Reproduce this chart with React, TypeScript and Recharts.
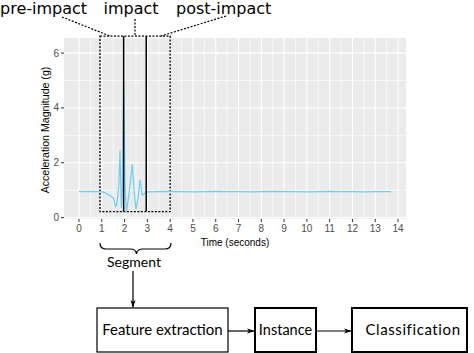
import {
  LineChart, Line, XAxis, YAxis, CartesianGrid, ReferenceArea, ReferenceLine,
} from 'recharts'

// acceleration trace (seconds, g)
const times = [
  0, 0.25, 0.5, 0.75, 1.0, 1.1, 1.2, 1.3, 1.4, 1.5, 1.55, 1.6, 1.65, 1.7, 1.75,
  1.8, 1.86, 1.9, 1.96, 2.02, 2.08, 2.15, 2.25, 2.34, 2.42, 2.5, 2.6, 2.68, 2.78,
  2.85, 2.95, 3.1, 3.5, 4.0, 4.5, 5.0, 5.5, 6.0, 6.5, 7.0, 7.5, 8.0, 8.5, 9.0,
  9.5, 10.0, 10.5, 11.0, 11.5, 12.0, 12.5, 13.0, 13.5, 13.7,
]
const accel = [
  0.96, 0.95, 0.96, 0.95, 0.94, 0.92, 0.88, 0.83, 0.78, 0.72, 0.6, 0.4, 0.45, 0.78, 1.2,
  2.45, 0.35, 1.0, 5.0, 1.1, 0.2, 0.6, 1.25, 1.95, 0.95, 0.3, 0.75, 1.38, 0.82,
  0.85, 0.95, 0.94, 0.95, 0.96, 0.95, 0.94, 0.95, 0.96, 0.95, 0.95, 0.94, 0.95, 0.96, 0.95,
  0.95, 0.94, 0.95, 0.96, 0.95, 0.95, 0.94, 0.95, 0.95, 0.95,
]

const xTicks = [0, 1, 2, 3, 4, 5, 6, 7, 8, 9, 10, 11, 12, 13, 14]
const yTicks = [0, 2, 4, 6]
const xMinor = [0.5, 1.5, 2.5, 3.5, 4.5, 5.5, 6.5, 7.5, 8.5, 9.5, 10.5, 11.5, 12.5, 13.5]
const yMinor = [1, 3, 5]

// segment window (seconds) and the split lines
const segStart = 0.92
const segEnd = 4.0
const impactStart = 1.96
const impactEnd = 2.95
const segBottom = 0.22
const segTop = 6.62

const data = times.map((t, i) => ({ t, a: accel[i] }))

const W = 474
const H = 353
const SANS = 'Liberation Sans, Arial, sans-serif'
const TICK = { fill: '#4D4D4D', fontSize: 10, fontFamily: SANS }
const ANNOT = 'DejaVu Sans, sans-serif'
const BOX_FONT = 'Lato, sans-serif'

function Overlay() {
  return (
    <svg width={W} height={H} style={{ position: 'absolute', left: 0, top: 0, pointerEvents: 'none' }}>
      <defs>
        <marker id="arr" markerWidth="8" markerHeight="6" refX="7" refY="3" orient="auto" markerUnits="userSpaceOnUse">
          <path d="M0,0.5 L8,3 L0,5.5 L2,3 Z" fill="#000" />
        </marker>
      </defs>
      {/* top labels */}
      <text x={0} y={14} fontSize={16} fontFamily={ANNOT} fill="#000">pre-impact</text>
      <text x={131} y={14} fontSize={16} fontFamily={ANNOT} fill="#000" textAnchor="middle">impact</text>
      <text x={176} y={14} fontSize={16} fontFamily={ANNOT} fill="#000">post-impact</text>
      <g stroke="#000" strokeWidth={1.2} strokeDasharray="2 1.5" fill="none">
        <line x1={62} y1={17} x2={110} y2={36} />
        <line x1={135} y1={19} x2={135} y2={36} />
        <line x1={226} y1={16} x2={161} y2={36} />
      </g>

      {/* axis titles */}
      <text x={235} y={246} fontSize={10} fontFamily={SANS} fill="#000" textAnchor="middle">Time (seconds)</text>
      <text x={45} y={130} fontSize={10.6} fontFamily={SANS} fill="#000" textAnchor="middle"
        dominantBaseline="central" transform="rotate(-90 45 130)">Acceleration Magnitude (g)</text>

      {/* brace + segment */}
      <path d="M100,243 Q100,249 106,249 L130,249 Q136,249 136.5,254 Q137,249 143,249 L165,249 Q171,249 171,243"
        fill="none" stroke="#000" strokeWidth={1.2} />
      <text x={134} y={267} fontSize={14} fontFamily={BOX_FONT} fill="#000" textAnchor="middle">Segment</text>
      <line x1={133} y1={271} x2={133} y2={307} stroke="#000" strokeWidth={1.2} markerEnd="url(#arr)" />

      {/* flow boxes */}
      <rect x={97} y={308} width={131} height={44} fill="#fff" stroke="#000" strokeWidth={1.2} />
      <text x={162.5} y={335} fontSize={15} fontFamily={BOX_FONT} fill="#000" textAnchor="middle">Feature extraction</text>
      <line x1={228} y1={331} x2={254} y2={331} stroke="#000" strokeWidth={1.2} markerEnd="url(#arr)" />
      <rect x={255} y={308} width={61} height={44} fill="#fff" stroke="#000" strokeWidth={2} />
      <text x={285.5} y={335} fontSize={14.5} fontFamily={BOX_FONT} fill="#000" textAnchor="middle">Instance</text>
      <line x1={316} y1={331} x2={351} y2={331} stroke="#000" strokeWidth={1.2} markerEnd="url(#arr)" />
      <rect x={352} y={308} width={115} height={44} fill="#fff" stroke="#000" strokeWidth={2} />
      <text x={413} y={335} fontSize={15} fontFamily={BOX_FONT} fill="#000" textAnchor="middle" letterSpacing={0.6}>Classification</text>
    </svg>
  )
}

export default function App() {
  return (
    <div style={{ position: 'absolute', left: 0, top: 0, width: W, height: H, background: '#fff' }}>
      <LineChart width={W} height={H} data={data} margin={{ top: 38, right: 68, left: 0, bottom: 0 }}>
        <CartesianGrid fill="#EBEBEB" stroke="#fff" strokeWidth={0.6}
          verticalValues={xMinor} horizontalValues={yMinor} />
        <CartesianGrid fill="none" stroke="#fff" strokeWidth={1.1}
          verticalValues={xTicks} horizontalValues={yTicks} />
        <XAxis
          dataKey="t"
          type="number"
          domain={[-0.658, 14.35]}
          ticks={xTicks}
          allowDataOverflow
          axisLine={false}
          tickSize={3}
          tickMargin={3}
          tickLine={{ stroke: '#333' }}
          tick={TICK}
          height={134}
          interval={0}
        />
        <YAxis
          type="number"
          domain={[-0.05, 6.55]}
          ticks={yTicks}
          allowDataOverflow
          axisLine={false}
          tickSize={3}
          tickMargin={2}
          tickLine={{ stroke: '#333' }}
          tick={TICK}
          width={64}
        />
        <Line
          type="linear"
          dataKey="a"
          stroke="#6CD0F5"
          strokeWidth={1.2}
          dot={false}
          isAnimationActive={false}
        />
        <ReferenceArea x1={segStart} x2={segEnd} y1={segBottom} y2={segTop} ifOverflow="visible"
          fill="none" fillOpacity={0} stroke="#000" strokeWidth={1.3} strokeDasharray="2 1.5" />
        <ReferenceLine segment={[{ x: impactStart, y: segBottom }, { x: impactStart, y: segTop }]}
          ifOverflow="visible" stroke="#000" strokeWidth={1.5} />
        <ReferenceLine segment={[{ x: impactEnd, y: segBottom }, { x: impactEnd, y: segTop }]}
          ifOverflow="visible" stroke="#000" strokeWidth={1.5} />
      </LineChart>
      <Overlay />
    </div>
  )
}
